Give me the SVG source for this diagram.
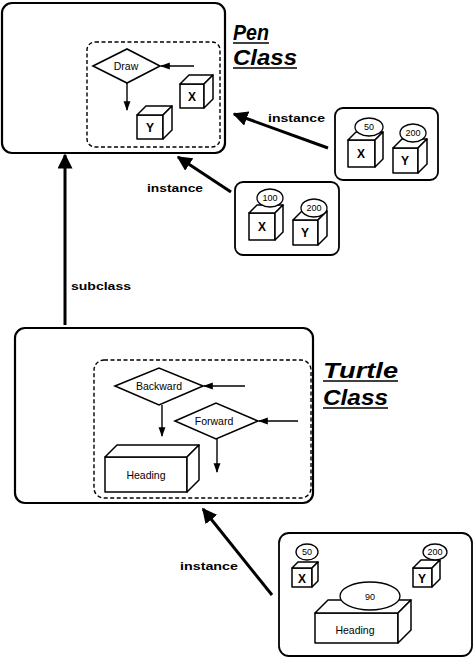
<svg xmlns="http://www.w3.org/2000/svg" width="474" height="659" viewBox="0 0 474 659">
<style>
.box{fill:#fff;stroke:#000;stroke-width:2.2}
.ibox{fill:#fff;stroke:#000;stroke-width:1.8}
.dash{fill:none;stroke:#000;stroke-width:1.4;stroke-dasharray:4 2.5}
.cube path{fill:#fff;stroke:#000;stroke-width:1.5;stroke-linejoin:round}
.dia{fill:#fff;stroke:#000;stroke-width:1.6}
.ell{fill:#fff;stroke:#000;stroke-width:1.3}
.big{stroke:#000;stroke-width:3;fill:none}
.sm{stroke:#000;stroke-width:1.4;fill:none}
.ttl{font-family:"Liberation Sans",Arial,sans-serif;font-weight:bold;font-style:italic;font-size:22px}
.lbl{font-family:"Liberation Sans",Arial,sans-serif;font-weight:bold;font-size:11px}
.t{font-family:"Liberation Sans",Arial,sans-serif;font-size:10.5px}
.xy{font-family:"Liberation Sans",Arial,sans-serif;font-size:12px;font-weight:bold}
.num{font-family:"Liberation Sans",Arial,sans-serif;font-size:9px}
.ul{stroke:#000;stroke-width:1.6}
</style>
<defs>
<marker id="ah" viewBox="0 0 10 10" refX="9" refY="5" markerWidth="5" markerHeight="5" orient="auto" markerUnits="strokeWidth"><path d="M0,0 L10,5 L0,10 Z" fill="#000"/></marker>
<marker id="sh" viewBox="0 0 10 10" refX="9" refY="5" markerWidth="7" markerHeight="7" orient="auto" markerUnits="strokeWidth"><path d="M0,1.5 L10,5 L0,8.5 Z" fill="#000"/></marker>
</defs>

<g id="pen-class">
<rect class="box" x="2" y="3" width="223" height="150" rx="10"/>
<rect class="dash" x="87" y="42" width="133" height="105" rx="8"/>
<g id="pen-draw">
<polygon class="dia" points="93,66 127,49 160,66 127,83"/>
<text class="t" x="126" y="70" text-anchor="middle">Draw</text>
</g>
<g id="pen-x" class="cube">
<path d="M180,84 h24 v24 h-24 Z"/><path d="M180,84 l9,-9 h24 l-9,9 Z"/><path d="M204,84 l9,-9 v24 l-9,9 Z"/>
<text class="xy" x="192" y="101" text-anchor="middle">X</text>
</g>
<g id="pen-y" class="cube">
<path d="M137,115 h26 v24 h-26 Z"/><path d="M137,115 l9,-9 h26 l-9,9 Z"/><path d="M163,115 l9,-9 v24 l-9,9 Z"/>
<text class="xy" x="150" y="132" text-anchor="middle">Y</text>
</g>
<text class="ttl" x="233" y="40" textLength="36" lengthAdjust="spacingAndGlyphs">Pen</text>
<line class="ul" x1="233" y1="43" x2="269" y2="43"/>
<text class="ttl" x="233" y="65" textLength="64" lengthAdjust="spacingAndGlyphs">Class</text>
<line class="ul" x1="233" y1="68" x2="297" y2="68"/>
</g>

<g id="pen-instance-1">
<rect class="ibox" x="335" y="108" width="103" height="72" rx="8"/>
<g class="cube">
<path d="M348,140 h27 v27 h-27 Z"/><path d="M348,140 l8,-8 h27 l-8,8 Z"/><path d="M375,140 l8,-8 v27 l-8,8 Z"/>
<text class="xy" x="361" y="158" text-anchor="middle">X</text>
</g>
<ellipse class="ell" cx="369" cy="127" rx="14" ry="9"/>
<text class="num" x="369" y="130" text-anchor="middle">50</text>
<g class="cube">
<path d="M393,148 h25 v25 h-25 Z"/><path d="M393,148 l9,-9 h25 l-9,9 Z"/><path d="M418,148 l9,-9 v25 l-9,9 Z"/>
<text class="xy" x="405" y="165" text-anchor="middle">Y</text>
</g>
<ellipse class="ell" cx="413" cy="133" rx="13" ry="9"/>
<text class="num" x="413" y="136" text-anchor="middle">200</text>
</g>

<g id="pen-instance-2">
<rect class="ibox" x="235" y="182" width="104" height="73" rx="8"/>
<g class="cube">
<path d="M249,213 h26 v27 h-26 Z"/><path d="M249,213 l8,-8 h26 l-8,8 Z"/><path d="M275,213 l8,-8 v27 l-8,8 Z"/>
<text class="xy" x="262" y="231" text-anchor="middle">X</text>
</g>
<ellipse class="ell" cx="270" cy="198" rx="13" ry="9"/>
<text class="num" x="270" y="201" text-anchor="middle">100</text>
<g class="cube">
<path d="M293,220 h25 v25 h-25 Z"/><path d="M293,220 l9,-9 h25 l-9,9 Z"/><path d="M318,220 l9,-9 v25 l-9,9 Z"/>
<text class="xy" x="305" y="237" text-anchor="middle">Y</text>
</g>
<ellipse class="ell" cx="314" cy="208" rx="13" ry="9"/>
<text class="num" x="314" y="211" text-anchor="middle">200</text>
</g>

<g id="turtle-class">
<rect class="box" x="15" y="328" width="298" height="175" rx="10"/>
<rect class="dash" x="94" y="360" width="217" height="138" rx="10"/>
<g id="turtle-backward">
<polygon class="dia" points="115,386 159,368 203,386 159,405"/>
<text class="t" x="159" y="390" text-anchor="middle">Backward</text>
</g>
<g id="turtle-forward">
<polygon class="dia" points="175,421 216,403 258,421 216,439"/>
<text class="t" x="214" y="425" text-anchor="middle">Forward</text>
</g>
<g id="turtle-heading" class="cube">
<path d="M105,457 h82 v35 h-82 Z"/><path d="M105,457 l12,-12 h82 l-12,12 Z"/><path d="M187,457 l12,-12 v35 l-12,12 Z"/>
<text class="t" x="146" y="479" text-anchor="middle" font-size="12">Heading</text>
</g>
<text class="ttl" x="323" y="378" textLength="75" lengthAdjust="spacingAndGlyphs">Turtle</text>
<line class="ul" x1="323" y1="381" x2="398" y2="381"/>
<text class="ttl" x="323" y="405" textLength="65" lengthAdjust="spacingAndGlyphs">Class</text>
<line class="ul" x1="323" y1="408" x2="388" y2="408"/>
</g>

<g id="turtle-instance">
<rect class="ibox" x="279" y="533" width="193" height="123" rx="10"/>
<g class="cube">
<path d="M292,568 h20 v19 h-20 Z"/><path d="M292,568 l6,-6 h20 l-6,6 Z"/><path d="M312,568 l6,-6 v19 l-6,6 Z"/>
<text class="xy" x="302" y="583" text-anchor="middle">X</text>
</g>
<ellipse class="ell" cx="307" cy="552" rx="11" ry="8"/>
<text class="num" x="307" y="555" text-anchor="middle">50</text>
<g class="cube">
<path d="M413,568 h19 v19 h-19 Z"/><path d="M413,568 l8,-8 h19 l-8,8 Z"/><path d="M432,568 l8,-8 v19 l-8,8 Z"/>
<text class="xy" x="422" y="583" text-anchor="middle">Y</text>
</g>
<ellipse class="ell" cx="435" cy="552" rx="12" ry="8"/>
<text class="num" x="435" y="555" text-anchor="middle">200</text>
<g class="cube">
<path d="M315,613 h83 v30 h-83 Z"/><path d="M315,613 l13,-13 h83 l-13,13 Z"/><path d="M398,613 l13,-13 v30 l-13,13 Z"/>
<text class="t" x="355" y="634" text-anchor="middle" font-size="12">Heading</text>
</g>
<ellipse class="ell" cx="370" cy="596" rx="30" ry="14"/>
<text class="num" x="370" y="600" text-anchor="middle" font-size="10">90</text>
</g>

<g id="connectors">
<line class="sm" x1="194" y1="66" x2="161" y2="66" marker-end="url(#sh)"/>
<line class="sm" x1="127" y1="83" x2="127" y2="110" marker-end="url(#sh)"/>
<line class="sm" x1="245" y1="386" x2="204" y2="386" marker-end="url(#sh)"/>
<line class="sm" x1="162" y1="405" x2="162" y2="436" marker-end="url(#sh)"/>
<line class="sm" x1="298" y1="421" x2="259" y2="421" marker-end="url(#sh)"/>
<line class="sm" x1="217" y1="439" x2="217" y2="472" marker-end="url(#sh)"/>
<line class="big" x1="328" y1="148" x2="234" y2="114" marker-end="url(#ah)"/>
<text class="lbl" x="268" y="122" textLength="57" lengthAdjust="spacingAndGlyphs">instance</text>
<line class="big" x1="231" y1="192" x2="178" y2="157" marker-end="url(#ah)"/>
<text class="lbl" x="147" y="192" textLength="56" lengthAdjust="spacingAndGlyphs">instance</text>
<line class="big" x1="65" y1="325" x2="65" y2="155" marker-end="url(#ah)"/>
<text class="lbl" x="71" y="290" textLength="60" lengthAdjust="spacingAndGlyphs">subclass</text>
<line class="big" x1="272" y1="595" x2="203" y2="509" marker-end="url(#ah)"/>
<text class="lbl" x="180" y="570" textLength="58" lengthAdjust="spacingAndGlyphs">instance</text>
</g>
</svg>
